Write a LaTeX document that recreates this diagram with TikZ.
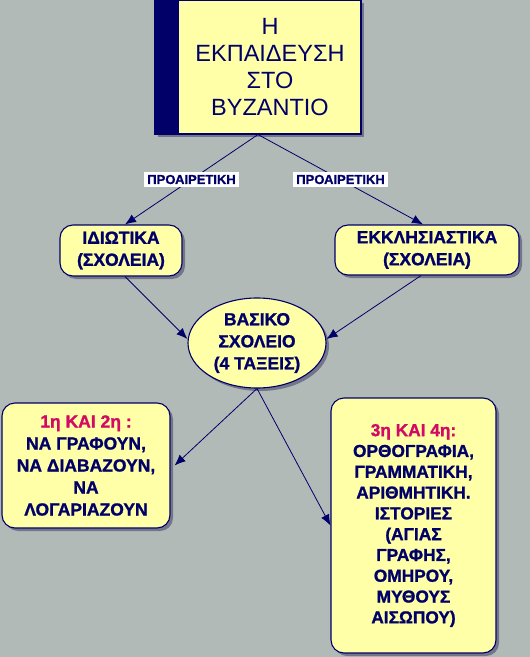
\documentclass[tikz,border=0pt]{standalone}
\usepackage{fontspec}
\setmainfont{Liberation Sans}[BoldFeatures={FakeBold=1.2}]
\usetikzlibrary{shapes.geometric,shadows,arrows.meta}
\definecolor{bgc}{RGB}{178,186,184}
\definecolor{boxy}{RGB}{255,255,168}
\definecolor{navy}{RGB}{0,0,104}
\definecolor{pinkc}{RGB}{210,10,100}
\definecolor{shadc}{RGB}{95,95,125}
\tikzset{
  shade3/.style={drop shadow={shadow xshift=3bp,shadow yshift=-3bp,fill=shadc,opacity=0.75}},
  ybox/.style={draw=navy,line width=1.1bp,fill=boxy,rounded corners=13bp,shade3,
    text=navy,align=center,inner sep=0pt,
    font=\bfseries\fontsize{17.5bp}{22bp}\selectfont},
  yell/.style={ellipse,draw=navy,line width=1.1bp,fill=boxy,shade3,
    text=navy,align=center,inner sep=0pt,
    font=\bfseries\fontsize{17.5bp}{22bp}\selectfont},
  conn/.style={draw=navy,line width=0.8bp,-{Latex[length=11bp,width=9bp]}},
  tag/.style={fill=white,text=navy,inner xsep=3bp,inner ysep=2.5bp,
    font=\bfseries\fontsize{13bp}{14bp}\selectfont},
}
\begin{document}
\begin{tikzpicture}[x=1bp,y=-1bp]
\fill[bgc] (0,0) rectangle (530,657);
\useasboundingbox (0,0) rectangle (530,657);
% title
\node[draw=navy,line width=1.1bp,fill=boxy,shade3,inner sep=0pt,
  minimum width=206bp,minimum height=134bp,text=navy,
  path picture={\fill[navy] (path picture bounding box.north west) rectangle ([xshift=24bp]path picture bounding box.south west);}]
  (title) at (258,67)
  {\makebox[206bp]{\hspace{24bp}\parbox{182bp}{\centering\fontsize{23.5bp}{27bp}\selectfont
   Η\\ΕΚΠΑΙΔΕΥΣΗ\\ΣΤΟ\\ΒΥΖΑΝΤΙΟ}}};
% second row
\node[ybox,minimum width=122bp,minimum height=51bp] (idio) at (121,250.5)
  {ΙΔΙΩΤΙΚΑ\\(ΣΧΟΛΕΙΑ)};
\node[ybox,minimum width=184bp,minimum height=50bp] (ekkl) at (427,250)
  {ΕΚΚΛΗΣΙΑΣΤΙΚΑ\\(ΣΧΟΛΕΙΑ)};
% ellipse
\node[yell,minimum width=138bp,minimum height=90bp] (bas) at (257,343)
  {ΒΑΣΙΚΟ\\ΣΧΟΛΕΙΟ\\(4 ΤΑΞΕΙΣ)};
% bottom boxes
\node[ybox,minimum width=168bp,minimum height=125bp] (low) at (86,465.5)
  {{\color{pinkc}1η ΚΑΙ 2η :}\\ΝΑ ΓΡΑΦΟΥΝ,\\ΝΑ ΔΙΑΒΑΖΟΥΝ,\\ΝΑ\\ΛΟΓΑΡΙΑΖΟΥΝ};
\node[ybox,minimum width=165bp,minimum height=255bp,
  font=\bfseries\fontsize{17.3bp}{20.8bp}\selectfont] (high) at (413.5,525.5)
  {{\color{pinkc}3η ΚΑΙ 4η:}\\ΟΡΘΟΓΡΑΦΙΑ,\\ΓΡΑΜΜΑΤΙΚΗ,\\ΑΡΙΘΜΗΤΙΚΗ.\\ΙΣΤΟΡΙΕΣ\\(ΑΓΙΑΣ\\ΓΡΑΦΗΣ,\\ΟΜΗΡΟΥ,\\ΜΥΘΟΥΣ\\ΑΙΣΩΠΟΥ)};
% connectors
\draw[conn] (title.south) -- node[tag] (t1) {ΠΡΟΑΙΡΕΤΙΚΗ} ([xshift=4bp]idio.north);
\draw[conn] (title.south) -- node[tag] (t2) {ΠΡΟΑΙΡΕΤΙΚΗ} ([xshift=-4bp]ekkl.north);
\draw[conn] ([xshift=4bp]idio.south) -- ([yshift=4bp]bas.west);
\draw[conn] ([xshift=-6bp]ekkl.south) -- ([yshift=4bp]bas.east);
\draw[conn] (bas.south) -- ([xshift=4bp]low.east);
\draw[conn] (bas.south) -- (high.west);
\end{tikzpicture}
\end{document}
